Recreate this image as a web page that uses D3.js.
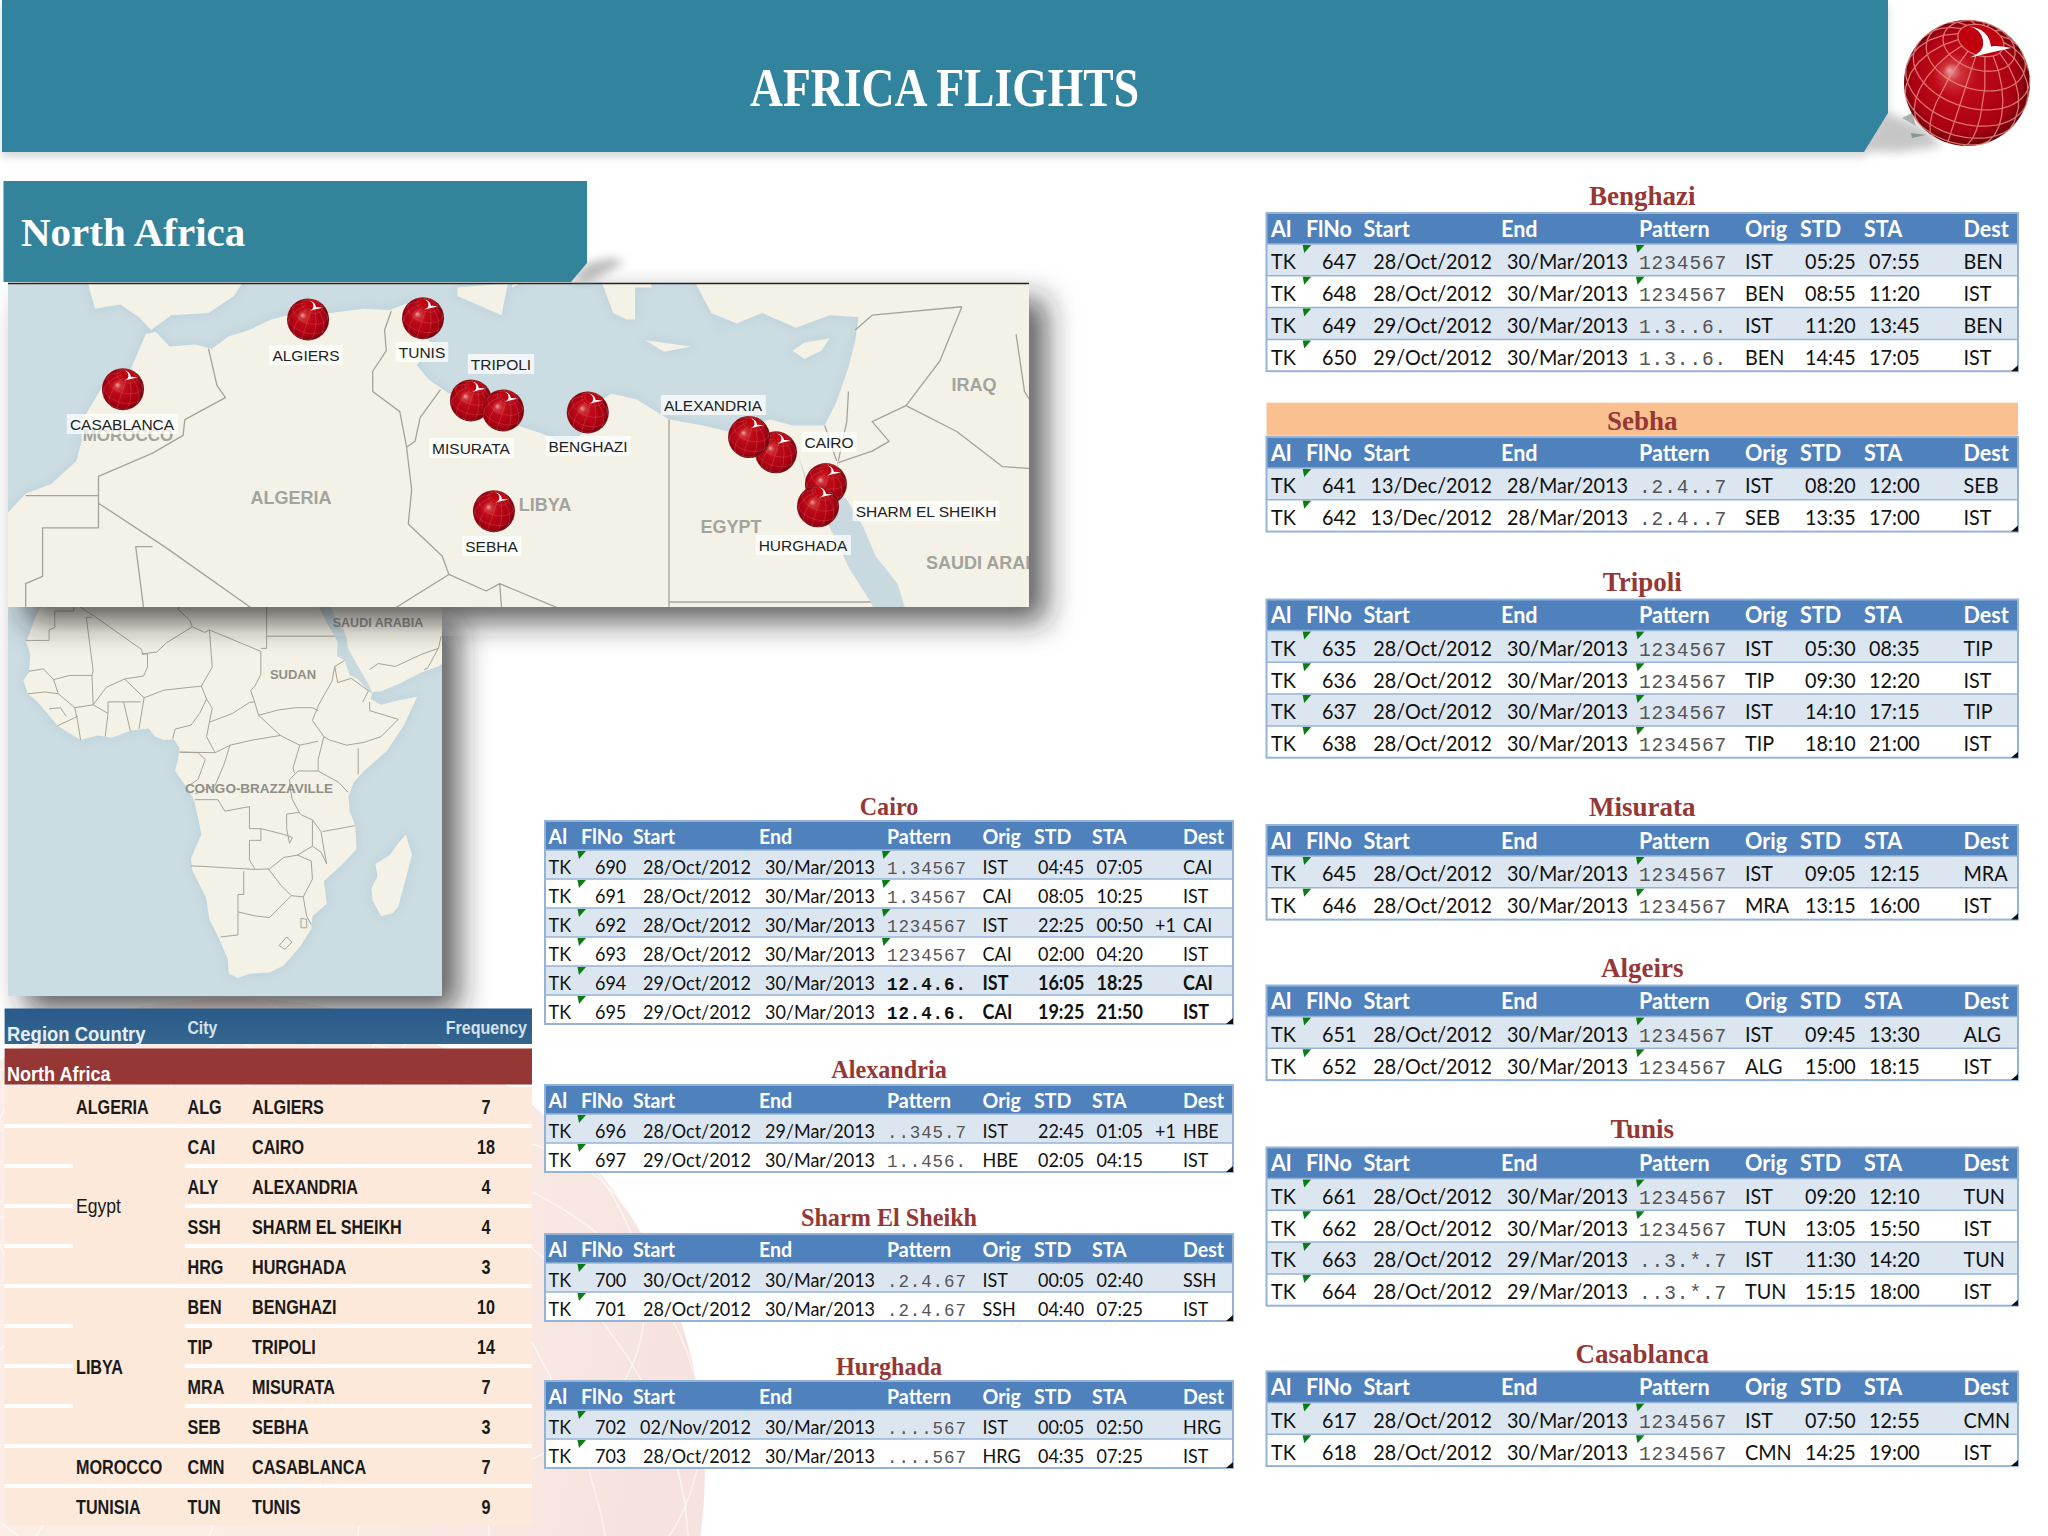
<!DOCTYPE html>
<html><head><meta charset="utf-8">
<script src="https://cdnjs.cloudflare.com/ajax/libs/d3/7.8.5/d3.min.js"></script>
<style>html,body{margin:0;background:#fff}svg{display:block}</style></head>
<body><svg id="c" width="2048" height="1536" viewBox="0 0 2048 1536"></svg>
<script>
// ---------- data ----------
const headers = ["Al","FlNo","Start","End","Pattern","Orig","STD","STA","Dest"];
const benghaziFlights = [
 ["TK","647","28/Oct/2012","30/Mar/2013","1234567","IST","05:25","07:55","","BEN"],
 ["TK","648","28/Oct/2012","30/Mar/2013","1234567","BEN","08:55","11:20","","IST"],
 ["TK","649","29/Oct/2012","30/Mar/2013","1.3..6.","IST","11:20","13:45","","BEN"],
 ["TK","650","29/Oct/2012","30/Mar/2013","1.3..6.","BEN","14:45","17:05","","IST"]];
const sebhaFlights = [
 ["TK","641","13/Dec/2012","28/Mar/2013",".2.4..7","IST","08:20","12:00","","SEB"],
 ["TK","642","13/Dec/2012","28/Mar/2013",".2.4..7","SEB","13:35","17:00","","IST"]];
const tripoliFlights = [
 ["TK","635","28/Oct/2012","30/Mar/2013","1234567","IST","05:30","08:35","","TIP"],
 ["TK","636","28/Oct/2012","30/Mar/2013","1234567","TIP","09:30","12:20","","IST"],
 ["TK","637","28/Oct/2012","30/Mar/2013","1234567","IST","14:10","17:15","","TIP"],
 ["TK","638","28/Oct/2012","30/Mar/2013","1234567","TIP","18:10","21:00","","IST"]];
const misurataFlights = [
 ["TK","645","28/Oct/2012","30/Mar/2013","1234567","IST","09:05","12:15","","MRA"],
 ["TK","646","28/Oct/2012","30/Mar/2013","1234567","MRA","13:15","16:00","","IST"]];
const algiersFlights = [
 ["TK","651","28/Oct/2012","30/Mar/2013","1234567","IST","09:45","13:30","","ALG"],
 ["TK","652","28/Oct/2012","30/Mar/2013","1234567","ALG","15:00","18:15","","IST"]];
const tunisFlights = [
 ["TK","661","28/Oct/2012","30/Mar/2013","1234567","IST","09:20","12:10","","TUN"],
 ["TK","662","28/Oct/2012","30/Mar/2013","1234567","TUN","13:05","15:50","","IST"],
 ["TK","663","28/Oct/2012","29/Mar/2013","..3.*.7","IST","11:30","14:20","","TUN"],
 ["TK","664","28/Oct/2012","29/Mar/2013","..3.*.7","TUN","15:15","18:00","","IST"]];
const casablancaFlights = [
 ["TK","617","28/Oct/2012","30/Mar/2013","1234567","IST","07:50","12:55","","CMN"],
 ["TK","618","28/Oct/2012","30/Mar/2013","1234567","CMN","14:25","19:00","","IST"]];
const cairoFlights = [
 ["TK","690","28/Oct/2012","30/Mar/2013","1.34567","IST","04:45","07:05","","CAI"],
 ["TK","691","28/Oct/2012","30/Mar/2013","1.34567","CAI","08:05","10:25","","IST"],
 ["TK","692","28/Oct/2012","30/Mar/2013","1234567","IST","22:25","00:50","+1","CAI"],
 ["TK","693","28/Oct/2012","30/Mar/2013","1234567","CAI","02:00","04:20","","IST"],
 ["TK","694","29/Oct/2012","30/Mar/2013","12.4.6.","IST","16:05","18:25","","CAI","b"],
 ["TK","695","29/Oct/2012","30/Mar/2013","12.4.6.","CAI","19:25","21:50","","IST","b"]];
const alexandriaFlights = [
 ["TK","696","28/Oct/2012","29/Mar/2013","..345.7","IST","22:45","01:05","+1","HBE"],
 ["TK","697","29/Oct/2012","30/Mar/2013","1..456.","HBE","02:05","04:15","","IST"]];
const sharmFlights = [
 ["TK","700","30/Oct/2012","30/Mar/2013",".2.4.67","IST","00:05","02:40","","SSH"],
 ["TK","701","28/Oct/2012","30/Mar/2013",".2.4.67","SSH","04:40","07:25","","IST"]];
const hurghadaFlights = [
 ["TK","702","02/Nov/2012","30/Mar/2013","....567","IST","00:05","02:50","","HRG"],
 ["TK","703","28/Oct/2012","30/Mar/2013","....567","HRG","04:35","07:25","","IST"]];
const frequencyRows = [
 ["ALGERIA","ALG","ALGIERS",7],["Egypt","CAI","CAIRO",18],["Egypt","ALY","ALEXANDRIA",4],
 ["Egypt","SSH","SHARM EL SHEIKH",4],["Egypt","HRG","HURGHADA",3],["LIBYA","BEN","BENGHAZI",10],
 ["LIBYA","TIP","TRIPOLI",14],["LIBYA","MRA","MISURATA",7],["LIBYA","SEB","SEBHA",3],
 ["MOROCCO","CMN","CASABLANCA",7],["TUNISIA","TUN","TUNIS",9]];
const cityPins = [ // name, lon, lat
 ["CASABLANCA",-7.25,33.12],["ALGIERS",3.68,36.5],["TUNIS",10.47,36.56],["TRIPOLI",13.3,32.56],
 ["MISURATA",15.2,32.06],["BENGHAZI",20.2,31.96],["SEBHA",14.66,26.88],["CAIRO",31.32,29.94],
 ["ALEXANDRIA",29.73,30.72],["SHARM EL SHEIKH",34.27,28.3],["HURGHADA",33.8,27.14]];
// geography, lon/lat
const landRing = [[-16.3,19],[-17,21],[-16,23.5],[-14.9,26],[-13,27.8],[-11.5,28.3],[-10,29.5],[-9.7,30.5],[-9.7,31.5],[-8.5,33.2],[-6.8,34.1],[-5.9,35.8],[-5.3,35.9],[-4.5,35.2],[-3,35.3],[-2,35.1],[-1,35.7],[0.2,36],[1.5,36.5],[3,36.8],[5,36.8],[7,37],[8.5,36.95],[9.8,37.35],[10.3,36.8],[11,37],[10.6,36.4],[10.7,35.6],[11.1,35.2],[10.1,34.3],[10.8,33.6],[12,32.9],[13.2,32.9],[15.2,32.4],[15.7,31.4],[17.5,30.9],[19,30.3],[20,31],[20,32],[21.6,32.9],[23.1,32.6],[25,31.6],[27,31.3],[29,30.9],[30,31.4],[31,31.6],[32.3,31.3],[34.2,31.3],[34.9,32.5],[35.6,34.2],[36,35.5],[36.2,36.6],[34.5,36.7],[32.5,36.1],[30.5,36.8],[29,36.3],[27.5,36.8],[26.5,38.3],[26.5,41],[70,41],[70,22],[59.5,22.5],[57.8,19],[55,17],[52,16],[48,14],[45,12.8],[43.5,12.7],[43.2,11.5],[45,10.5],[48,11.3],[51.3,11.9],[49,7],[46,2.5],[42,-1],[40.2,-3],[39.3,-5.5],[39.5,-8],[40.5,-10.5],[40.7,-14.5],[38,-17.3],[35,-19.8],[35.5,-23.5],[33,-25.5],[32.8,-27.5],[31,-30],[28,-33],[25.5,-34],[22,-34.2],[20,-34.8],[18.4,-34.2],[18.2,-32],[16.5,-28.6],[15,-26],[14.4,-22.5],[12,-18],[11.8,-16],[13.6,-12],[13,-9],[12.3,-6],[11,-3.8],[9,-1],[9.5,1],[9.8,3],[8.8,4.5],[7,4.4],[5.5,5],[4.4,6.4],[1.2,6],[-2,4.8],[-4.5,5.2],[-7.5,4.4],[-9.3,5.5],[-11.5,6.9],[-13.3,9],[-15,11],[-16.7,12.4],[-17.5,14.7],[-16.5,16]];
const europeRing = [[-9.5,38.7],[-8.9,37],[-7.4,37.2],[-6.3,36.6],[-5.6,36],[-4.4,36.7],[-2.2,36.8],[-0.7,37.6],[0.2,38.7],[-0.3,39.5],[1,41],[3.2,42],[6,43.2],[8.8,44.4],[10.3,43],[12.2,41.8],[14,40.8],[15.7,40],[16,38.8],[15.7,38],[16.6,38.3],[17.1,39],[16.5,39.7],[17,40.5],[18.4,40],[16,41.6],[14,42.5],[12.3,44.3],[13.5,45.7],[19.5,41],[19.3,40],[21,38.3],[21.7,36.8],[22.5,36.5],[23,36.5],[23,38],[24,38],[23,40],[26,40.8],[27.5,41],[30,46],[-10,46]];
const islandRings = [
 [[12.5,38],[15.5,38.2],[15.1,36.7],[12.5,37.6]],
 [[8.3,39],[9.6,39.2],[9.7,41],[8.3,40.9]],
 [[23.6,35.5],[26.3,35.2],[24.7,34.95]],
 [[32.3,35],[33,35.4],[34.5,35.6],[34,35],[33,34.6]],
 [[28,36.2],[28.2,36.4],[27.8,36]],
 [[49.3,-12],[50.4,-15.5],[48,-24],[47,-25],[45,-25.5],[43.5,-23],[43.3,-21],[44.4,-19],[44,-17],[46.5,-15.5],[48,-13.5]]
];
const redSea = [[32.6,29.9],[33.2,28.4],[34.2,27.8],[34.6,28.1],[35,29.5],[34.8,28],[35.5,27.5],[36.5,26],[37.2,24.5],[38.5,23],[39,21.5],[39.2,20],[41,17],[42.8,14],[43.4,12.7],[43.2,12.5],[41,14.8],[39.5,15.6],[38.6,18],[37.3,18.7],[37.4,21],[36.9,22],[35.6,23.9],[34.8,25.5],[33.9,27],[33.2,28]];
const borderLines = [
 [[-2.2,35.1],[-1.7,33.3],[-1.2,32.7],[-3.6,31.6],[-3.7,30.8],[-5.5,29.9],[-8.7,28.7],[-8.7,27.3]],
 [[-13,27.7],[-8.7,27.7]],
 [[-8.7,27.3],[-8.7,26],[-12,26],[-12,23.4],[-13,23],[-13,21.3],[-17,21.3]],
 [[-8.7,27.3],[-4.8,25],[1.2,21.1],[3.2,19.8],[3.3,19],[4.2,19.1]],
 [[3.2,19.1],[5.8,19.4],[7.5,20.9],[12,23.5]],
 [[8.6,36.9],[8.2,36],[8.3,35],[7.5,34],[7.5,33],[9.1,32],[9.5,30.2]],
 [[11.5,33.1],[10.3,31.7],[10,30.5],[9.5,30.2],[9.8,28],[9.6,26.2],[11.6,24.5],[12,23.5]],
 [[12,23.5],[14.2,22.6],[15,23],[24,19.5],[24,15.7],[22.9,13.6],[22.2,13],[22.9,11],[23.6,8.7]],
 [[24,20],[25,20],[25,31.6]],
 [[25,22],[36.9,22]],
 [[-5.5,25],[-6.5,25],[-5.3,16.3],[-5.5,15.5],[-9.4,15.5],[-12.2,14.8],[-14,16.6],[-16.5,16.2]],
 [[4.2,19.1],[4.2,16.9],[3.5,15.4],[0.2,14.9]],
 [[0.2,14.9],[3.6,11.7],[7,13],[13.6,13.7],[15.5,16.9],[15,23]],
 [[13.6,13.7],[14.5,11.5],[13.3,9],[11.8,7],[9,6.3],[8.6,4.6]],
 [[14.5,11.5],[15.5,9.9],[15,7.5],[19,9],[22,10.9],[22.9,11]],
 [[15,7.5],[14.5,5],[16,2.2]],
 [[16,2.2],[18.6,3.5],[22.5,4.4],[27.4,5.2],[30.8,3.5]],
 [[23.6,8.7],[27.4,5.2]],
 [[23.6,8.7],[27,9.6],[30,10],[33,10],[34,9.5]],
 [[36.9,17],[36.4,14.5],[34.1,10.5],[33,7.8],[35,5]],
 [[36.9,17],[38.6,18]],[[36.9,17],[37.4,14.3],[39.8,15],[42.8,12.9],[41.8,11]],
 [[43,11],[43,9.5],[48,8],[45,5],[42,4]],
 [[35,5],[36,4.4],[39,3.5],[42,4]],
 [[41,3],[41,-1.6]],
 [[35,5],[34,1],[34,-1]],
 [[34,-1],[37.6,-3],[39.2,-4.7]],
 [[30.8,3.5],[29.6,-0.5],[29.9,-1.4]],
 [[34,-1],[30.5,-1],[29,-2.5],[29.2,-4.5],[29.5,-6],[30.7,-8.2],[31,-8.6],[33,-9.5]],
 [[30.8,3.5],[34,4.2]],
 [[33,-9.5],[34.5,-11.5],[35,-14.5],[35.5,-17],[34.5,-15],[33,-14],[33,-9.5]],
 [[34.8,-11.5],[40.4,-10.5]],
 [[33,-14],[30.4,-15.5],[28,-15.9],[25.5,-17.8],[23,-17.9]],
 [[25.3,-17.8],[27.5,-20.5],[29.3,-22.2],[31.4,-22.4],[33,-19.5],[32.8,-16.5],[30.4,-15.5]],
 [[11.8,-17.3],[14,-17.4],[23,-17.9]],
 [[21,-18.2],[21,-22],[20,-22],[20,-28.4],[17,-28.7]],
 [[20,-24.8],[22.8,-25.4],[25.5,-25.7],[29.3,-22.2]],
 [[31.4,-22.4],[32,-25.5],[32.8,-26.8]],
 [[31,-25.8],[32,-26],[32,-27.3],[31,-27.3],[31,-25.8]],
 [[27.2,-30],[28.5,-28.7],[29.4,-29.5],[28.2,-30.6],[27.2,-30]],
 [[22,-13],[24,-13],[24,-11],[22,-11],[22,-7.2],[17.7,-8],[16.5,-6],[12.5,-6]],
 [[22,-13],[22,-16.3],[23,-17.9]],
 [[24,-11],[28,-12],[29.5,-12.5],[29,-13.5],[28.5,-11],[28.5,-8.5],[30.7,-8.2]],
 [[12.5,-5],[16,-3.5],[17.5,0],[18.6,3.5]],
 [[9.8,2.3],[13,2.2],[14.3,1],[13,-2.5],[11,-3.8]],
 [[9.8,2.3],[16,2.2]],
 [[-12.2,14.8],[-11.4,12.4],[-13.7,12.7],[-16.7,12.4]],
 [[-11.4,12.4],[-8.5,10],[-8,7.6],[-7.5,4.4]],
 [[-11.5,6.9],[-8,8.5]],
 [[-13,9.8],[-11,10],[-10,8.5]],
 [[-3.2,5],[-2.7,9],[-5.3,10.5],[-8.5,10]],
 [[1.2,6],[0,11],[-2.7,11],[-2.7,9]],[[0,11],[3,11]],
 [[2.7,6.3],[3.6,11.7]],
 [[-5.3,10.5],[-3,13.5],[0.2,14.9]],
 [[-5.3,10.5],[-5.5,15.5]],
 [[34.2,31.3],[34.9,29.5]],
 [[35,29.5],[35.5,31.5],[35.6,33]],
 [[34.95,29.4],[37,30],[38,30.5],[37,31.5],[39,32.3]],
 [[42.3,37.1],[41,34.5],[39,32.3]],
 [[39,32.3],[42,31],[44.7,29.2],[46.5,29.1]],
 [[36,36],[37,36.7],[42.3,37.1]],
 [[45.5,35.8],[46,33],[47.5,31]],
 [[43,16.5],[44.5,17.5],[47.5,17],[52,19],[55,20],[55.5,22]],
 [[52.5,16.5],[53.1,16.7],[55,20]]
];
const topMapNames = [["ALGERIA",291,498,18],["LIBYA",545,505,18],["EGYPT",731,527,18],["IRAQ",974,385,18],["MOROCCO",128,435,17]];
const saudiClip = ["SAUDI ARABIA",926,563,18];
const africaNames = [["SAUDI ARABIA",378,622,12.5],["SUDAN",293,674,13],["CONGO-BRAZZAVILLE",259,788,13.5]];
const labelAt = {"CASABLANCA":[122,424],"ALGIERS":[306,355],"TUNIS":[422,352],"TRIPOLI":[501,364],"MISURATA":[471,448],"BENGHAZI":[588,446],"ALEXANDRIA":[713,405],"CAIRO":[829,442],"SHARM EL SHEIKH":[926,511],"HURGHADA":[803,545],"SEBHA":[491.5,546]};

// ---------- layout ----------
const RC = {left:1266.5,right:2018,rowH:31.8,headH:31,font:22,patFont:19.5,patLs:.9,tBase:9.3,sx:.9,
  head:[1271,1306,1363.5,1501,1639,1745,1800,1864,1963.5],
  x:{al:1271,no:1322,start:1492,end:1507,pat:1639,orig:1745,std:1805,sta:1869,plus:1923,dest:1963.5},tri1:1302.7,tri2:1636};
const LC = {left:545,right:1233,rowH:29,headH:29,font:20,patFont:17.5,patLs:.9,tBase:9.5,sx:.9,
  head:[548.6,581,633,759,887,982.5,1034,1092,1183],
  x:{al:548.6,no:595,start:751,end:765,pat:887,orig:982.5,std:1038,sta:1096.6,plus:1155,dest:1183},tri1:577.5,tri2:882};
const tables = [
 ["Benghazi",benghaziFlights,RC,196.7,213],["Sebha",sebhaFlights,RC,421.7,437],["Tripoli",tripoliFlights,RC,583,599.5],
 ["Misurata",misurataFlights,RC,808,825],["Algeirs",algiersFlights,RC,969,985.5],["Tunis",tunisFlights,RC,1129.5,1147.5],
 ["Casablanca",casablancaFlights,RC,1355,1371.5],
 ["Cairo",cairoFlights,LC,807,821],["Alexandria",alexandriaFlights,LC,1070,1085],
 ["Sharm El Sheikh",sharmFlights,LC,1218,1234],["Hurghada",hurghadaFlights,LC,1367,1381]];

const svg = d3.select("#c");
const defs = svg.append("defs");
function shadow(id,dx,dy,sd,col,op){
  const f=defs.append("filter").attr("id",id).attr("x","-20%").attr("y","-20%").attr("width","140%").attr("height","140%");
  f.append("feDropShadow").attr("dx",dx).attr("dy",dy).attr("stdDeviation",sd).attr("flood-color",col).attr("flood-opacity",op);
}
shadow("mapShadow",17,15,15,"#222",.72);
shadow("bandShadow",0,5,4,"#888",.35);
defs.append("filter").attr("id","blur6").attr("x","-30%").attr("y","-30%").attr("width","160%").attr("height","160%")
  .append("feGaussianBlur").attr("stdDeviation",5);
function lin(id,stops,x2=0,y2=1){const g=defs.append("linearGradient").attr("id",id).attr("x1",0).attr("y1",0).attr("x2",x2).attr("y2",y2);
  stops.forEach(s=>g.append("stop").attr("offset",s[0]).attr("stop-color",s[1]));}
lin("regionHead",[[0,"#2a5a8a"],[1,"#34668f"]]);
const rg=defs.append("radialGradient").attr("id","ball").attr("cx",.5).attr("cy",.5).attr("r",.52).attr("fx",.36).attr("fy",.4);
[[0,"#e8a4a2"],[.14,"#d0343a"],[.34,"#bd0a18"],[.8,"#a80012"],[1,"#5c0508"]].forEach(s=>rg.append("stop").attr("offset",s[0]).attr("stop-color",s[1]));
const wm=defs.append("linearGradient").attr("id","wmark").attr("x1",0).attr("y1",0).attr("x2",1).attr("y2",.2);
[[0,"#fdf1e8"],[.75,"#faeae4"],[1,"#f6e3df"]].forEach(s=>wm.append("stop").attr("offset",s[0]).attr("stop-color",s[1]));

// ---------- watermark globe ----------
(function(){
  const cx=233,cy=1470,r=472;
  const g=svg.append("g");
  g.append("circle").attr("cx",cx).attr("cy",cy).attr("r",r).attr("fill","url(#wmark)");
  const p=d3.geoOrthographic().scale(r).translate([cx,cy]).rotate([0,-42,-20]);
  g.append("path").attr("d",d3.geoPath(p)(d3.geoGraticule().step([22,22])())).attr("fill","none").attr("stroke","#fff").attr("stroke-width",1.5).attr("opacity",.6);
})();

// ---------- globe ----------
const birdPts = "M.04,-.9 Q.35,-.85 .38,-.58 Q.45,-.6 .70,-.555 Q.35,-.48 .04,-.40 Q.30,-.50 .25,-.69 Q.22,-.85 .04,-.9Z";
function drawGlobe(g,cx,cy,r,lw,step,op){
  const p=d3.geoOrthographic().scale(r).translate([cx,cy]).rotate([0,-40,-18]);
  const path=d3.geoPath(p);
  g.append("circle").attr("cx",cx).attr("cy",cy).attr("r",r).attr("fill","url(#ball)");
  g.append("path").attr("d",path(d3.geoGraticule().step(step).extent([[-180,-80],[180,68]])()))
    .attr("fill","none").attr("stroke","#ec8f88").attr("stroke-width",lw).attr("opacity",op);
  g.append("path").attr("d",path(d3.geoCircle().center([0,90]).radius(22)())).attr("fill","#c0000f").attr("stroke","#ec8f88").attr("stroke-opacity",op).attr("stroke-width",lw);
  g.append("path").attr("d",birdPts).attr("transform",`translate(${cx},${cy}) scale(${r})`).attr("fill","#fff");
}

// ---------- title band ----------
svg.append("polygon").attr("points","1864,151 1888,113 1925,128 1942,146 1900,152").attr("fill","#999").attr("opacity",.55).attr("filter","url(#blur6)");
svg.append("polygon").attr("points","1902,118 1912,113 1916,126").attr("fill","#aab0b0");
svg.append("polygon").attr("points","1911,133 1926,135 1912,138").attr("fill","#8b9596");
svg.append("polygon").attr("points","2,0 1888,0 1888,113 1864,152 2,152").attr("fill","#30849e").attr("filter","url(#bandShadow)");
svg.append("text").text("AFRICA FLIGHTS").attr("x",944.5).attr("y",106).attr("text-anchor","middle")
  .attr("font-family","Liberation Serif").attr("font-weight",700).attr("font-size",54).attr("fill","#fff")
  .attr("textLength",389).attr("lengthAdjust","spacingAndGlyphs");
drawGlobe(svg.append("g"),1967,83,63,1.3,[22,18],.8);

// ---------- maps ----------
const ln=d3.line();
function drawMap(x0,y0,x1,y1,proj,id,filter,bw){
  const cp=defs.append("clipPath").attr("id",id);
  cp.append("rect").attr("x",x0).attr("y",y0).attr("width",x1-x0).attr("height",y1-y0);
  const outer=svg.append("g");
  outer.append("rect").attr("x",x0).attr("y",y0).attr("width",x1-x0).attr("height",y1-y0).attr("fill","#cbdce2").attr("filter",filter);
  const g=outer.append("g").attr("clip-path",`url(#${id})`);
  const ring=c=>ln(c.map(proj))+"Z";
  const landD=[landRing,europeRing,...islandRings].map(ring).join("");
  g.append("path").attr("d",landD).attr("fill","#b8cfd8").attr("stroke","#b8cfd8").attr("stroke-width",3).attr("opacity",.7).attr("filter","url(#blur6)");
  g.append("path").attr("d",landD).attr("fill","#f4f2e7");
  g.append("path").attr("d",ring(redSea)).attr("fill","#c8dae0");
  g.append("path").attr("d",borderLines.map(c=>ln(c.map(proj))).join("")).attr("fill","none").attr("stroke","#a5a397").attr("stroke-width",bw).attr("stroke-linejoin","round");
  return g;
}
const africaMap=d3.geoMercator().center([20,-34.8]).scale(328).translate([238,978]);
const gAfrica=drawMap(8,607,442,996,africaMap,"clipA","url(#mapShadow)",1);
gAfrica.selectAll("text.n").data(africaNames).join("text").attr("class","n").text(d=>d[0]).attr("x",d=>d[1]).attr("y",d=>d[2]+5)
  .attr("text-anchor","middle").attr("font-family","Liberation Sans").attr("font-weight",700).attr("font-size",d=>d[3]).attr("fill","#8f8f8a");

const northMap=d3.geoMercator().center([25,22]).scale(970).translate([669,602]);
const gNorth=drawMap(8,284,1029,607,northMap,"clipN","url(#mapShadow)",1.3);
gNorth.selectAll("text.n").data([...topMapNames,saudiClip]).join("text").attr("class","n").text(d=>d[0]).attr("x",d=>d[1]).attr("y",d=>d[2]+6)
  .attr("text-anchor",d=>d[0]==="SAUDI ARABIA"?"start":"middle").attr("font-family","Liberation Sans").attr("font-weight",700).attr("font-size",d=>d[3])
  .attr("fill","#a3a39d");
svg.append("line").attr("x1",8).attr("x2",1029).attr("y1",283.5).attr("y2",283.5).attr("stroke","#222").attr("stroke-width",1.5);

const labelG=svg.append("g");
labelG.selectAll("g").data(Object.entries(labelAt)).join("g").each(function(d){
  const g=d3.select(this);
  const t=g.append("text").text(d[0]).attr("x",d[1][0]).attr("y",d[1][1]+5.5).attr("text-anchor","middle")
    .attr("font-family","Liberation Sans").attr("font-size",15.5).attr("fill","#222");
  const b=t.node().getBBox();
  g.insert("rect","text").attr("x",b.x-3).attr("y",d[1][1]-10).attr("width",b.width+6).attr("height",20).attr("fill","#fff").attr("opacity",.72);
});
cityPins.forEach(c=>{const [x,y]=northMap([c[1],c[2]]); drawGlobe(svg.append("g"),x,y,21,.5,[30,30],.45);});

// ---------- North Africa band ----------
svg.append("polygon").attr("points","571,281 587,263 612,258 625,262 590,282").attr("fill","#888").attr("opacity",.55).attr("filter","url(#blur6)");
svg.append("polygon").attr("points","3.5,181 587,181 587,263 571,282 3.5,282").attr("fill","#33839b");
svg.append("text").text("North Africa").attr("x",21).attr("y",246).attr("font-family","Liberation Serif").attr("font-weight",700).attr("font-size",41).attr("fill","#fff");

// ---------- frequency table ----------
const FT={x0:4.6,x1:532,rowTop:1087,rowH:40,c0:76,c1:187.5,c2:252,c3:486,sx:.83};
function stext(g,t,x,y,size,col,sx,anchor,weight){
  return g.append("text").text(t).attr("transform",`translate(${x},${y}) scale(${sx},1)`).attr("font-family","Liberation Sans")
   .attr("font-weight",weight||700).attr("font-size",size).attr("fill",col).attr("text-anchor",anchor||"start");
}
const ft=svg.append("g");
ft.append("rect").attr("x",FT.x0).attr("y",1008.5).attr("width",FT.x1-FT.x0).attr("height",35.5).attr("fill","url(#regionHead)");
ft.append("rect").attr("x",FT.x0).attr("y",1048.5).attr("width",FT.x1-FT.x0).attr("height",36).attr("fill","#953735");
stext(ft,"Region Country",7,1041,21,"#e6eff6",.88);
stext(ft,"City",187.5,1034,17.5,"#d4e2ed",.9);
stext(ft,"Frequency",527,1034,17.5,"#d4e2ed",.92,"end");
stext(ft,"North Africa",7,1081,21,"#fff",.86);
ft.append("rect").attr("x",FT.x0).attr("y",FT.rowTop).attr("width",FT.x1-FT.x0).attr("height",FT.rowH*frequencyRows.length-2).attr("fill","#fde9d9");
const yRow=d3.scaleBand().domain(d3.range(frequencyRows.length)).range([FT.rowTop,FT.rowTop+FT.rowH*frequencyRows.length]);
frequencyRows.forEach((r,i)=>{
  const yc=yRow(i)+20, yb=yRow(i)+FT.rowH-1;
  const same=i<frequencyRows.length-1&&frequencyRows[i+1][0]===r[0];
  if(i<frequencyRows.length-1){
    if(same){
      ft.append("rect").attr("x",FT.x0).attr("y",yb-2).attr("width",68).attr("height",4).attr("fill","#fff");
      ft.append("rect").attr("x",185).attr("y",yb-2).attr("width",FT.x1-185).attr("height",4).attr("fill","#fff");
    } else ft.append("rect").attr("x",FT.x0).attr("y",yb-2).attr("width",FT.x1-FT.x0).attr("height",4).attr("fill","#fff");
  }
  stext(ft,r[1],FT.c1,yc+7,19.5,"#1a1a1a",FT.sx);
  stext(ft,r[2],FT.c2,yc+7,19.5,"#1a1a1a",FT.sx);
  stext(ft,r[3],FT.c3,yc+7,19.5,"#1a1a1a",FT.sx,"middle");
});
d3.rollups(frequencyRows.map((r,i)=>({c:r[0],i})),v=>d3.mean(v,d=>d.i),d=>d.c).forEach(([c,m])=>{
  const yc=yRow(0)+20+m*FT.rowH;
  stext(ft,c,FT.c0,yc+(c==="Egypt"?6:7),19.5,"#1a1a1a",c==="Egypt"?.9:FT.sx,"start",c==="Egypt"?400:700);
});

// ---------- flight tables ----------
tables.forEach(([name,rows,L,titleY,top])=>{
  const g=svg.append("g"), w=L.right-L.left;
  if(name==="Sebha") g.append("rect").attr("x",L.left).attr("y",402.7).attr("width",w).attr("height",33).attr("fill","#fac090");
  g.append("text").text(name).attr("x",(L.left+L.right)/2).attr("y",titleY+8).attr("text-anchor","middle")
    .attr("font-family","Liberation Serif").attr("font-weight",700).attr("font-size",L===RC?27:24.2).attr("fill","#953735");
  const H=L.headH+rows.length*L.rowH;
  g.append("rect").attr("x",L.left).attr("y",top).attr("width",w).attr("height",H).attr("fill","#fff");
  g.append("rect").attr("x",L.left).attr("y",top).attr("width",w).attr("height",L.headH).attr("fill","#4f81bd");
  const yR=d3.scaleBand().domain(d3.range(rows.length)).range([top+L.headH,top+H]);
  const cell=(s,t,x,y,opt={})=>s.append("text").text(t).attr("transform",`translate(${x},${y}) scale(${opt.sx||L.sx},1)`)
    .attr("font-family",opt.f||"Lato").attr("font-size",opt.size||L.font).attr("font-weight",opt.w||400).attr("fill",opt.c||"#111").attr("text-anchor",opt.a||"start").attr("letter-spacing",opt.ls||0);
  headers.forEach((h,i)=>cell(g,h,L.head[i],top+L.headH/2+L.tBase-1,{w:700,c:"#fff",size:L.font,sx:.98}));
  rows.forEach((r,i)=>{
    const y=yR(i),yc=y+L.rowH/2,by=yc+L.tBase,b=r[10]==="b";
    if(i%2===0) g.append("rect").attr("x",L.left).attr("y",y).attr("width",w).attr("height",L.rowH).attr("fill","#dce6f1");
    if(i>0) g.append("line").attr("x1",L.left).attr("x2",L.right).attr("y1",y).attr("y2",y).attr("stroke","#95b3d7").attr("stroke-width",1.5);
    const tw=(x)=>g.append("polygon").attr("points",`${x},${y+1} ${x+8.5},${y+1} ${x+1.5},${y+9}`).attr("fill","#0a7d12");
    tw(L.tri1);
    if(!isNaN(+r[4])) tw(L.tri2);
    cell(g,r[0],L.x.al,by); cell(g,r[1],L.x.no,by);
    cell(g,r[2],L.x.start,by,{a:"end"}); cell(g,r[3],L.x.end,by);
    cell(g,r[4],L.x.pat,by,{f:"Liberation Mono",size:L.patFont,sx:1,ls:L.patLs,c:b?"#111":"#555",w:b?700:400});
    const W=b?700:400;
    cell(g,r[5],L.x.orig,by,{w:W}); cell(g,r[6],L.x.std,by,{w:W}); cell(g,r[7],L.x.sta,by,{w:W});
    if(r[8]) cell(g,r[8],L.x.plus,by); cell(g,r[9],L.x.dest,by,{w:W});
  });
  g.append("line").attr("x1",L.left).attr("x2",L.right).attr("y1",top+L.headH).attr("y2",top+L.headH).attr("stroke","#95b3d7").attr("stroke-width",1.5);
  g.append("rect").attr("x",L.left).attr("y",top).attr("width",w).attr("height",H).attr("fill","none").attr("stroke","#95b3d7").attr("stroke-width",2);
  g.append("polygon").attr("points",`${L.right},${top+H-6} ${L.right},${top+H} ${L.right-7},${top+H}`).attr("fill","#111");
});
</script></body></html>
